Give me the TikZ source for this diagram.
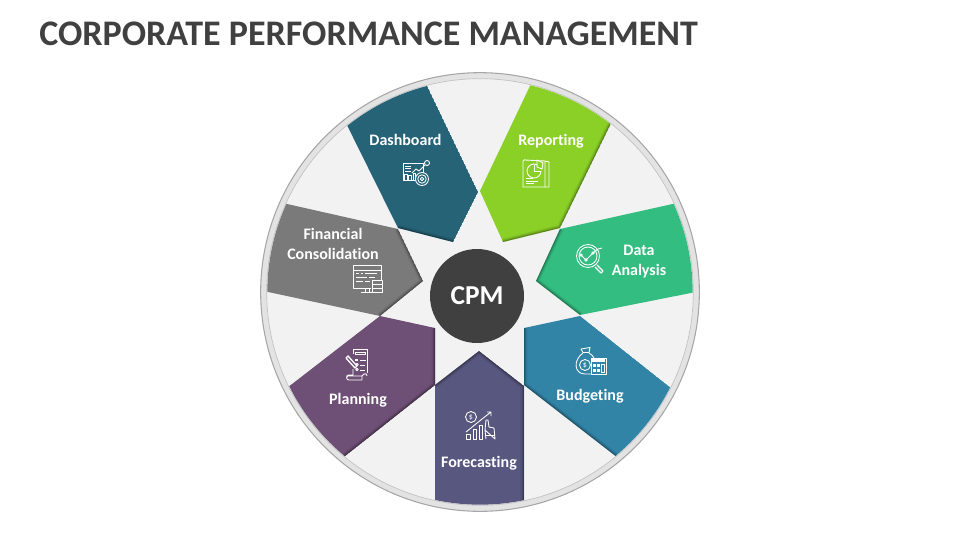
\documentclass[tikz,border=0pt]{standalone}
\usepackage{fontspec}
\setmainfont[Ligatures=NoCommon]{Carlito}
\definecolor{titlegray}{HTML}{404040}
\definecolor{ringgray}{HTML}{E3E3E3}
\definecolor{ringedge}{HTML}{A6A6A6}
\definecolor{diskgray}{HTML}{F2F2F2}
\definecolor{dashcol}{HTML}{266377}
\definecolor{repcol}{HTML}{8BD027}
\definecolor{datacol}{HTML}{33BD80}
\definecolor{budcol}{HTML}{3284A6}
\definecolor{forecol}{HTML}{57577F}
\definecolor{plancol}{HTML}{6E4F75}
\definecolor{fincol}{HTML}{7A7A7A}
\tikzset{
  label/.style={text=white,font=\bfseries\fontsize{12}{15}\selectfont,align=center},
  icon/.style={draw=white,line width=0.65pt,line join=round}
}
% #1 colour, #2 outline, #3 edges with the inner shadow
\newcommand{\petal}[3]{
  \begin{scope}
    \clip #2 -- cycle;
    \fill[#1] #2 -- cycle;
    \draw[black,opacity=.08,line width=5pt] #3;
    \draw[black,opacity=.12,line width=3pt] #3;
    \draw[black,opacity=.18,line width=1.5pt] #3;
  \end{scope}
}
\begin{document}
\begin{tikzpicture}[x=0.75pt,y=-0.75pt]
  \useasboundingbox (0,0) rectangle (960,540);
  \node[anchor=west,inner sep=0pt,text=titlegray,font=\bfseries\fontsize{27}{30}\selectfont] (title) at (39,34) {CORPORATE PERFORMANCE MANAGEMENT};
  % ring and disk
  \draw[ringedge,fill=ringgray,line width=0.8pt] (480,292) circle [radius=164.5pt];
  \draw[ringedge!70,fill=diskgray,line width=0.5pt] (480,292) circle [radius=160pt];
  % the seven petals
  \begin{scope}
    \clip (480,292) circle [radius=159.5pt];
    \petal{dashcol}{(418,67) -- (478,192) -- (453,242) -- (398,228) -- (338,107)}{(453,242) -- (398,228)}
    \petal{repcol}{(480,191) -- (503,242) -- (560,228) -- (620,105) -- (539,67)}{(503,242) -- (560,228) -- (620,105)}
    \petal{datacol}{(560,229) -- (536,281) -- (580,315) -- (716,288) -- (695,199)}{(560,229) -- (536,281) -- (580,315)}
    \petal{budcol}{(524,328) -- (524,385) -- (631,468) -- (686,400) -- (580,316)}{(524,328) -- (524,385) -- (631,468)}
    \petal{forecol}{(479,351) -- (524,386) -- (524,518) -- (435,518) -- (435,385)}{(435,385) -- (479,351) -- (524,386) -- (524,518)}
    \petal{plancol}{(380,316) -- (435,328) -- (435,385) -- (330,468) -- (274,398)}{(435,328) -- (435,385) -- (330,468)}
    \petal{fincol}{(265,199) -- (398,229) -- (423,281) -- (380,316) -- (245,287)}{(398,229) -- (423,281) -- (380,316)}
  \end{scope}
  % centre
  \node[circle,fill=titlegray,minimum size=70.5pt,inner sep=0pt,text=white,font=\bfseries\fontsize{20.5}{24}\selectfont] (cpm) at (477,296) {CPM};
  % labels
  \node[label] (dashboard) at (405.5,140) {Dashboard};
  \node[label] (reporting) at (551,141) {Reporting};
  \node[label] (data) at (639,262) {Data\\Analysis};
  \node[label] (budgeting) at (590,396) {Budgeting};
  \node[label] (forecasting) at (479,463) {Forecasting};
  \node[label] (planning) at (358,400) {Planning};
  \node[label] (financial) at (333,244) {Financial\\Consolidation};
  % dashboard icon
  \begin{scope}[shift={(392,150)}]
    \draw[icon] (31,24) -- (31,13) -- (11,13) -- (11,30) -- (24,30);
    \draw[icon] (13,16) -- (19,16) (13,18.5) -- (19,18.5) (13,21) -- (19,21);
    \draw[icon] (12.5,30) -- (12.5,24) -- (15,24) -- (15,30) (16.5,30) -- (16.5,25.5) -- (19,25.5) -- (19,30) (21,30) -- (21,23) -- (23,23) -- (23,30);
    \draw[icon] (20,23) -- (24,19) -- (27,21) -- (33,15);
    \draw[icon] (35,13) circle [radius=2.5];
    \draw[icon,fill=dashcol] (30,29) circle [radius=6.5];
    \draw[icon] (30,29) circle [radius=4.2] (30,29) circle [radius=1.8];
  \end{scope}
  % reporting icon
  \begin{scope}[shift={(512,150)}]
    \draw[icon] (13,10) -- (33,11) -- (37,12) -- (37,37) (33,11) -- (33,37);
    \draw[icon] (11,11) -- (13,9.5) (11,11) -- (11,37) -- (37,37);
    \draw[icon] (29,21) arc [start angle=0,end angle=300,radius=7];
    \draw[icon] (22,15) -- (22,21) -- (29,21);
    \draw[icon] (25,10) -- (31,13) -- (30,19) -- (25,17) -- cycle;
    \draw[icon] (14,31) -- (26,31) (14,33.5) -- (22,33.5) (14,28.5) -- (21,28.5);
  \end{scope}
  % data analysis icon
  \begin{scope}[shift={(568,238)}]
    \draw[icon] (20,18) circle [radius=11.5] (20,18) circle [radius=9];
    \draw[icon,line width=1pt] (29,27) -- (33,31) -- (35,33) -- (33,35) -- (27,29);
    \draw[icon] (13,17) -- (18,22) -- (25,15) -- (30,11) -- (34,10);
    \draw[icon] (13,17) circle [radius=1.3] (18,22) circle [radius=1.3] (25,15) circle [radius=1.3];
  \end{scope}
  % budgeting icon
  \begin{scope}[shift={(570,340)}]
    \draw[icon] (11,9) -- (20,7.5) -- (19,12.5) -- (13,12.5) -- cycle;
    \draw[icon] (13,13) .. controls (3,20) and (4,34) .. (15,34) -- (21,34) (19,13) .. controls (21,14) and (23,16) .. (24,18);
    \draw[icon] (15,25) circle [radius=5.5];
    \node[inner sep=0pt,text=white,font=\fontsize{6}{6}\selectfont] (budgetsign) at (15,25) {\$};
    \draw[icon] (21,18) rectangle (36,34);
    \fill[white] (22,19) rectangle (35,22);
    \foreach \x in {23,27} \foreach \y in {24,28.5} \fill[white] (\x,\y) rectangle +(2.8,3);
    \draw[icon] (31.5,24) rectangle (34.5,32);
  \end{scope}
  % forecasting icon
  \begin{scope}[shift={(456,405)}]
    \draw[icon] (15,12) circle [radius=5.5];
    \node[inner sep=0pt,text=white,font=\fontsize{6}{6}\selectfont] (foresign) at (15,12) {\$};
    \draw[icon] (10,27) -- (26,14) (26,14) -- (35,7) (31,7) -- (35,7) -- (35,11);
    \draw[icon] (10.5,34) rectangle (14,29) (17,34) rectangle (20.5,24) (23,34) rectangle (26.5,20);
    \draw[icon] (30,34) -- (29,25) (29,25) -- (30,15) -- (32,15) -- (33,22) -- (38,23) -- (39,34) -- cycle;
    \draw[icon] (30,30) -- (39,30);
  \end{scope}
  % planning icon
  \begin{scope}[shift={(336,345)}]
    \draw[icon] (17,9) -- (17,4.5) -- (31,4.5) -- (31,28);
    \draw[icon] (19,7) rectangle (29,9.5);
    \draw[icon] (10,31) -- (26,31) -- (26,35) -- (13,35) .. controls (10,35) and (10,31) .. (12,30) -- (17,30) -- (17,24) (26,31) .. controls (28,28) and (31,28) .. (31,31);
    \draw[icon,line width=1pt] (10,13) -- (12,11) -- (21,21) -- (19,23) -- cycle;
    \fill[white] (19,14) rectangle (22,16);
    \draw[icon] (24,15) -- (30,15) (24,20) -- (29,20) (24,25) -- (29,25);
    \draw[icon] (21,19.5) circle [radius=1.2] (21,24.5) circle [radius=1.2];
  \end{scope}
  % financial consolidation icon
  \begin{scope}[shift={(345,258)}]
    \draw[icon] (26,30) -- (8.5,30) -- (8.5,7.5) -- (36.5,7.5) -- (36.5,22);
    \draw[icon] (8.5,12) -- (36.5,12);
    \draw[icon] (11,15) -- (14,15) (16,15) -- (18,15) (20,15) -- (32,15) (11,19) -- (22,19) (24,19) -- (30,19) (11,23) -- (18,23) (20,23) -- (25,23);
    \draw[icon] (20,30) -- (20,33.5) (24,30) -- (24,33.5) (16,34.5) -- (28,34.5);
    \draw[icon] (27,22) rectangle (37,26) (27,26) rectangle (37,30) (27,30) rectangle (37,34);
  \end{scope}
\end{tikzpicture}
\end{document}
